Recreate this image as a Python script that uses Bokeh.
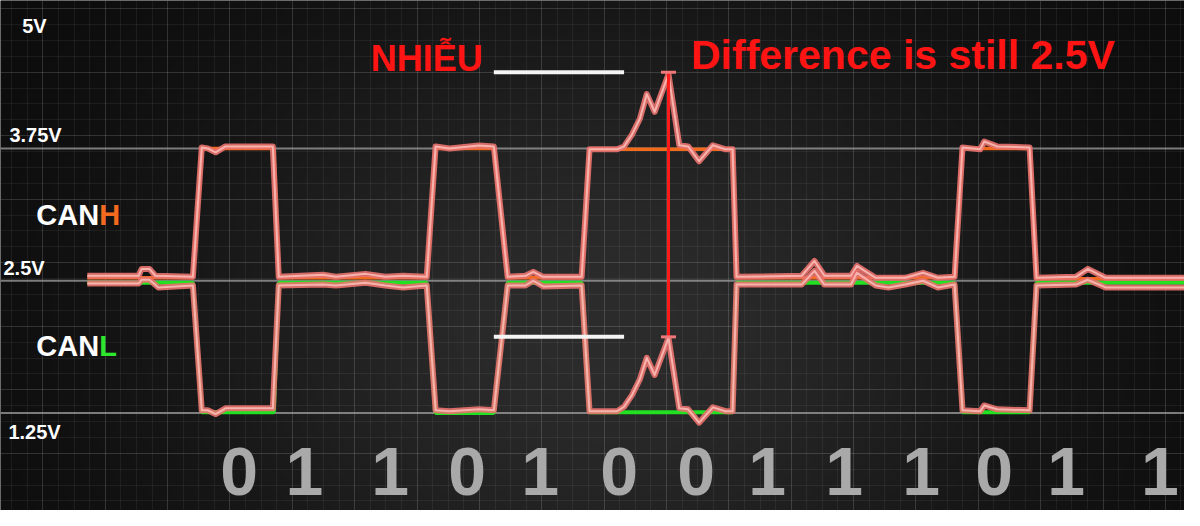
import numpy as np
from bokeh.plotting import figure
from bokeh.models import Grid, FixedTicker, Span
from bokeh.core.properties import value
from bokeh.embed import file_html
from bokeh.resources import INLINE

# ---------------- data (time in sample units, level in volts) ----------------
canh_t = [88, 140, 143, 151, 157, 195, 204, 210, 218, 228, 276, 282, 327, 340, 370, 390, 408, 432,
          441, 455, 485, 500, 514, 532, 540, 550, 589, 597, 625, 632, 640, 648, 655, 663, 677, 688,
          697, 708, 722, 735, 742, 746, 812, 825, 835, 862, 868, 887, 917, 935, 950, 967, 975, 993,
          997, 1010, 1043, 1050, 1090, 1102, 1120, 1200]
canh_v = [2.547, 2.547, 2.612, 2.612, 2.547, 2.537, 3.759, 3.750, 3.713, 3.769, 3.769, 2.537, 2.556,
          2.537, 2.565, 2.537, 2.547, 2.537, 3.769, 3.750, 3.778, 3.769, 2.537, 2.547, 2.584, 2.537,
          2.537, 3.741, 3.741, 3.769, 3.880, 4.030, 4.263, 4.095, 4.450, 3.780, 3.769, 3.629, 3.780,
          3.741, 3.741, 2.537, 2.547, 2.687, 2.547, 2.547, 2.640, 2.528, 2.528, 2.575, 2.528, 2.537,
          3.759, 3.741, 3.815, 3.769, 3.759, 2.528, 2.537, 2.612, 2.528, 2.528]

canl_t = [88, 140, 143, 151, 160, 195, 204, 210, 218, 228, 276, 282, 327, 340, 370, 390, 408, 432,
          441, 455, 485, 500, 514, 532, 540, 550, 589, 597, 625, 632, 640, 648, 655, 663, 677, 688,
          697, 708, 722, 735, 742, 746, 812, 825, 835, 862, 868, 887, 900, 917, 935, 950, 967, 975,
          993, 997, 1010, 1043, 1050, 1090, 1102, 1120, 1200]
canl_v = [2.473, 2.473, 2.509, 2.509, 2.437, 2.455, 1.277, 1.277, 1.241, 1.295, 1.295, 2.455, 2.464,
          2.455, 2.482, 2.455, 2.437, 2.455, 1.277, 1.268, 1.286, 1.277, 2.455, 2.455, 2.500, 2.446,
          2.455, 1.268, 1.268, 1.310, 1.420, 1.570, 1.772, 1.610, 1.960, 1.295, 1.286, 1.160, 1.304,
          1.268, 1.268, 2.464, 2.464, 2.593, 2.464, 2.464, 2.575, 2.455, 2.437, 2.464, 2.500, 2.437,
          2.464, 1.277, 1.268, 1.322, 1.286, 1.277, 2.455, 2.464, 2.509, 2.437, 2.437]

ideal_h_t = [88, 195, 204, 277, 282, 432, 441, 500, 514, 589, 597, 742, 746, 967, 975, 1043, 1050, 1200]
ideal_h_v = [2.528, 2.528, 3.750, 3.750, 2.528, 2.528, 3.750, 3.750, 2.528, 2.528, 3.741, 3.741,
             2.528, 2.528, 3.750, 3.750, 2.519, 2.519]
ideal_l_t = [88, 195, 204, 277, 282, 432, 441, 500, 514, 589, 597, 742, 746, 967, 975, 1043, 1050, 1200]
ideal_l_v = [2.480, 2.480, 1.259, 1.259, 2.480, 2.480, 1.250, 1.250, 2.480, 2.480, 1.259, 1.259,
             2.480, 2.480, 1.259, 1.259, 2.480, 2.480]

levels = [5.0, 3.75, 2.5, 1.25]
level_labels = ["5V", "3.75V", "2.5V", "1.25V"]

bits = ["0", "1", "1", "0", "1", "0", "0", "1", "1", "1", "0", "1", "1"]
bit_t = [242, 308, 395, 473, 547, 627, 705, 777, 855, 933, 1007, 1080, 1175]

marker_t = 677
marker_top = 4.47
marker_bottom = 1.97
noise_bar_t0 = 500
noise_bar_t1 = 632

# ---------------- layout / style ----------------
W, H = 1184, 510
X0, X1 = 0, 1200
Y0, Y1 = 0.330, 5.147
FONT = value("Liberation Sans")
BASE = 0.355  # baseline correction (fraction of font size) for svg text


def dy(offset, size):
    return offset - BASE * size


p = figure(width=W, height=H, x_range=(X0, X1), y_range=(Y0, Y1),
           output_backend="svg", toolbar_location=None,
           x_axis_location=None, y_axis_location=None,
           min_border=0, outline_line_color=None,
           background_fill_color="#181818", border_fill_color="#181818")
# drop any default grids
p.center = [r for r in p.center if not isinstance(r, Grid)]

# soft vignette background
gh, gw = 132, 300
gy, gx = np.mgrid[0:gh, 0:gw]
px = gx / gw * 1200
py = (1 - gy / gh) * 526
lum = 11 + 33 * np.exp(-(((px - 610) / 430) ** 2 + ((py - 340) / 330) ** 2))
lum = lum.astype(np.uint32)
img = (255 << 24) | (lum << 16) | (lum << 8) | lum
p.image_rgba(image=[img.astype(np.uint32)], x=X0, y=Y0, dw=X1 - X0, dh=Y1 - Y0, level="image")

# grids
xmaj = [43 + 63.2 * k for k in range(-1, 20)]
xmin = [43 + 15.8 * k for k in range(-4, 80) if k % 4]
ymaj = [0.87 + 0.6 * k for k in range(-1, 9)]
ymin = [0.87 + 0.15 * k for k in range(-4, 36) if k % 4]
for dim, maj, mn in ((0, xmaj, xmin), (1, ymaj, ymin)):
    g = Grid(dimension=dim, ticker=FixedTicker(ticks=maj, minor_ticks=mn),
             grid_line_color="#ffffff", grid_line_alpha=0.15, grid_line_width=1,
             minor_grid_line_color="#ffffff", minor_grid_line_alpha=0.06)
    p.add_layout(g)

for lv in levels[1:]:
    p.add_layout(Span(location=lv, dimension="width", line_color="#a0a0a0",
                      line_width=2, line_alpha=0.75, level="underlay"))

# ideal signals
p.line(ideal_h_t, ideal_h_v, line_color="#f26a1b", line_width=3.5)
p.line(ideal_l_t, ideal_l_v, line_color="#22e022", line_width=4)

# measured (noisy) signals
for t, v in ((canh_t, canh_v), (canl_t, canl_v)):
    p.line(t, v, line_color="#e9726e", line_width=6, line_alpha=0.9, line_join="round")
    p.line(t, v, line_color="#f7b4ae", line_width=2, line_join="round")

# noise reference bars
p.segment(x0=[noise_bar_t0] * 2, x1=[noise_bar_t1] * 2, y0=[marker_top, marker_bottom],
          y1=[marker_top, marker_bottom], line_color="#f4f4f4", line_width=4)

# difference marker
p.segment(x0=[marker_t], x1=[marker_t], y0=[marker_bottom], y1=[marker_top],
          line_color="#ff1a1a", line_width=3)
p.scatter(x=[marker_t, marker_t], y=[marker_top, marker_bottom], marker="dash", size=15,
          line_color="#f07878", line_width=3)

# titles
p.text(x=[noise_bar_t0], y=[marker_top], text=["NHIỄU"], text_font=FONT, text_font_style="bold",
       text_font_size="36px", text_color="#ff1414", text_align="right",
       text_baseline="alphabetic", x_offset=-11, y_offset=dy(-1, 36))
p.text(x=[marker_t], y=[marker_top], text=["Difference is still 2.5V"], text_font=FONT,
       text_font_style="bold", text_font_size="41px", text_color="#ff1414", text_align="left",
       text_baseline="alphabetic", x_offset=22.5, y_offset=dy(-3, 41))

# level labels
level_x = [22, 9, 3, 8]
level_dy = [17.5, -6.3, -5.8, 25.7]
for lx, lv, lt, d in zip(level_x, levels, level_labels, level_dy):
    p.text(x=[lx], y=[lv], text=[lt], text_font=FONT, text_font_style="bold",
           text_font_size="20px", text_color="#ffffff", text_align="left",
           text_baseline="alphabetic", y_offset=dy(d, 20))

# CANH / CANL
mid_h = (levels[1] + levels[2]) / 2
mid_l = (levels[2] + levels[3]) / 2
for ym, last, col, d in ((mid_h, "H", "#f36a1e", 10.9), (mid_l, "L", "#2ee62e", 9.5)):
    p.text(x=[100], y=[ym], text=["CAN"], text_font=FONT, text_font_style="bold",
           text_font_size="29px", text_color="#ffffff", text_align="right",
           text_baseline="alphabetic", y_offset=dy(d, 29))
    p.text(x=[100], y=[ym], text=[last], text_font=FONT, text_font_style="bold",
           text_font_size="29px", text_color=col, text_align="left",
           text_baseline="alphabetic", y_offset=dy(d, 29))

# bit values
p.text(x=bit_t, y=[Y0] * len(bit_t), text=bits, text_font=FONT, text_font_style="bold",
       text_font_size="68px", text_color="#a9a9a9", text_align="center",
       text_baseline="alphabetic", y_offset=dy(-14.5, 68))

open("out.html", "w").write(file_html(p, INLINE))
